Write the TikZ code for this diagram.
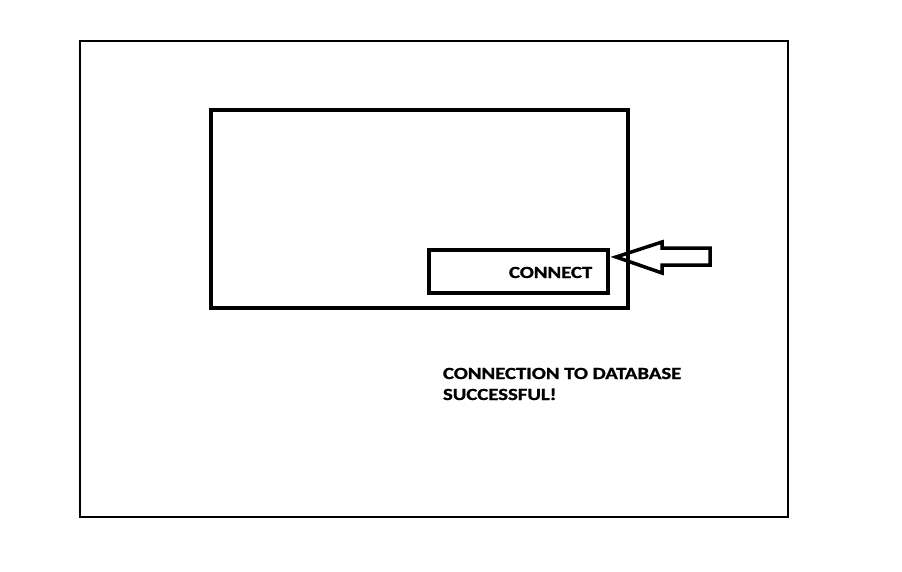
\documentclass[tikz,border=0pt]{standalone}
\usepackage{fontspec}
\setmainfont{Carlito}[BoldFeatures={FakeBold=1}]
\usepackage{graphicx}
\tikzset{
  box/.style={draw=black, inner sep=0pt, outer sep=0pt},
  label/.style={inner sep=0pt, outer sep=0pt, anchor=base west, font=\fontsize{17}{20}\selectfont\bfseries},
}
\newcommand{\wide}[1]{\scalebox{1.22}[1]{#1}}
\begin{document}
\begin{tikzpicture}[x=1pt,y=-1pt]
\useasboundingbox (0,0) rectangle (902,571);
\node[box, line width=1.6pt, minimum width=708pt, minimum height=476pt] (frame) at (434,279) {};
\node[box, line width=4pt, minimum width=417pt, minimum height=198pt] (window) at (419.5,209) {};
\node[box, line width=4pt, minimum width=179pt, minimum height=43pt] (button) at (518.5,271.5) {};
\node[label] (btntext) at (509,278) {\wide{CONNECT}};
\node[label] (msg1) at (443,379) {\wide{CONNECTION TO DATABASE}};
\node[label] (msg2) at (443,400) {\wide{SUCCESSFUL!}};
\coordinate (tip) at (616,257);
\draw[line width=3.5pt, line join=miter] (tip) -- (662,242) -- (662,248) -- (710,248) -- (710,265) -- (662,265) -- (662,273) -- cycle;
\end{tikzpicture}
\end{document}
